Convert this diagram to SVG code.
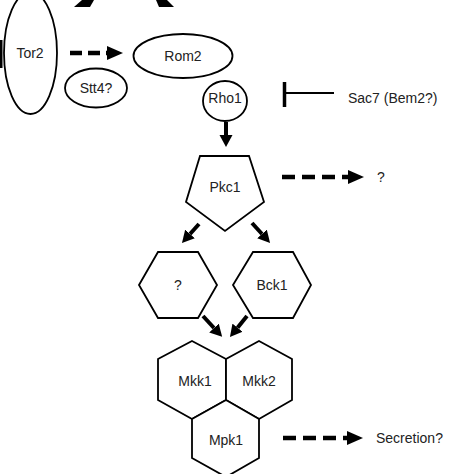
<svg xmlns="http://www.w3.org/2000/svg" width="474" height="474" viewBox="0 0 474 474">
<style>
.n{fill:#fff;stroke:#000;stroke-width:1.8}
.t{font-family:"Liberation Sans",Arial,sans-serif;font-size:14px;fill:#222;text-anchor:middle;dominant-baseline:central}
.tl{text-anchor:start}
.d{stroke:#000;stroke-width:4.5;stroke-dasharray:13 7;fill:none}
.s{stroke:#000;stroke-width:4;fill:none}
</style>
<defs>
<marker id="dh" markerWidth="17" markerHeight="14" refX="0" refY="7" orient="auto" markerUnits="userSpaceOnUse"><path d="M0,0 L16,7 L0,14 z" fill="#000"/></marker>
<marker id="sh" markerWidth="13" markerHeight="14" refX="0" refY="7" orient="auto" markerUnits="userSpaceOnUse"><path d="M0,0.5 L12,7 L0,13.5 z" fill="#000"/></marker>
</defs>
<rect width="474" height="474" fill="#fff"/>
<g id="connectors">
<polygon points="74,7 82,0 94,0 90,7" fill="#000"/>
<polygon points="156,0 167,0 174,7 159,7" fill="#000"/>
<rect x="0" y="40" width="2.5" height="28" fill="#000"/>
<line class="d" x1="70" y1="53" x2="107" y2="53" style="stroke-dasharray:12 6" marker-end="url(#dh)"/>
<line class="s" x1="226" y1="122" x2="226" y2="135" marker-end="url(#sh)"/>
<line x1="284.5" y1="82" x2="284.5" y2="107" stroke="#000" stroke-width="3.5"/>
<line x1="284" y1="93" x2="334" y2="93" stroke="#000" stroke-width="2.2"/>
<line class="d" x1="282" y1="177" x2="348" y2="177" marker-end="url(#dh)"/>
<line class="s" x1="199" y1="224" x2="190" y2="234" marker-end="url(#sh)"/>
<line class="s" x1="252" y1="223" x2="262" y2="234" marker-end="url(#sh)"/>
<line class="s" x1="203" y1="316" x2="214" y2="328" marker-end="url(#sh)"/>
<line class="s" x1="247" y1="316" x2="237.5" y2="327.7" marker-end="url(#sh)"/>
<line class="d" x1="283" y1="438" x2="347" y2="438" marker-end="url(#dh)"/>
</g>
<g id="tor2"><ellipse class="n" cx="30.5" cy="53" rx="26.5" ry="61"/><text class="t" x="30" y="53">Tor2</text></g>
<g id="rom2"><ellipse class="n" cx="183" cy="56" rx="49.5" ry="22"/><text class="t" x="183" y="56">Rom2</text></g>
<g id="stt4"><ellipse class="n" cx="96" cy="88" rx="31" ry="19.5"/><text class="t" x="96" y="88">Stt4?</text></g>
<g id="rho1"><ellipse class="n" cx="225" cy="101" rx="22" ry="20"/><text class="t" x="225" y="98">Rho1</text></g>
<g id="sac7"><text class="t tl" x="348" y="98">Sac7 (Bem2?)</text></g>
<g id="pkc1"><polygon class="n" points="200,156 249,156 264,202 225,231 186,202"/><text class="t" x="225" y="187">Pkc1</text></g>
<g id="unknown-out"><text class="t tl" x="377" y="177">?</text></g>
<g id="unknown"><polygon class="n" points="139,285 158,252 198,252 217,285 198,318 158,318"/><text class="t" x="178" y="285">?</text></g>
<g id="bck1"><polygon class="n" points="233,285 253,252 293,252 311,285 293,318 253,318"/><text class="t" x="272" y="285">Bck1</text></g>
<g id="mkk1"><polygon class="n" points="192,341 226,359 226,400 192,419 158,400 158,359"/><text class="t" x="195" y="381">Mkk1</text></g>
<g id="mkk2"><polygon class="n" points="259,341 292,359 292,400 259,419 226,400 226,359"/><text class="t" x="259" y="381">Mkk2</text></g>
<g id="mpk1"><polygon class="n" points="226,400 259,419 259,458 226,477 192,458 192,419"/><text class="t" x="226" y="440">Mpk1</text></g>
<g id="secretion"><text class="t tl" x="376" y="438">Secretion?</text></g>
</svg>
